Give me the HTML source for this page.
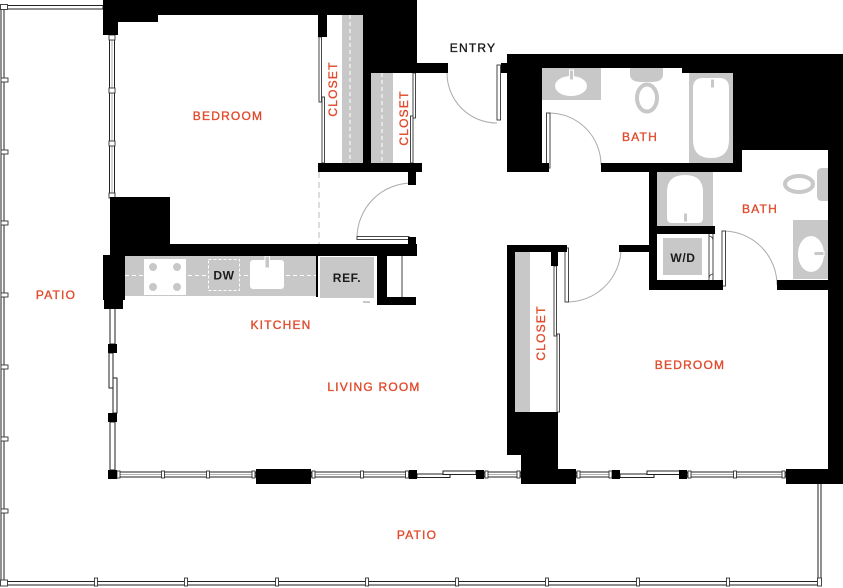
<!DOCTYPE html>
<html><head><meta charset="utf-8"><style>
html,body{margin:0;padding:0;background:#fff;}
svg{display:block;}
.lbl{font-family:"Liberation Sans",sans-serif;font-size:12px;fill:#e04b2c;stroke:#e04b2c;stroke-width:0.35px;letter-spacing:1.2px;}
.blk{font-family:"Liberation Sans",sans-serif;font-size:12px;fill:#1a1a1a;font-weight:bold;letter-spacing:0.6px;}
.ent{font-family:"Liberation Sans",sans-serif;font-size:12px;fill:#1a1a1a;stroke:#1a1a1a;stroke-width:0.35px;letter-spacing:1.2px;}
.win{fill:#fff;stroke:#222;stroke-width:1;}
.post{fill:#fff;stroke:#333;stroke-width:0.9;}
.door{fill:#fff;stroke:#333;stroke-width:0.9;}
.arc{fill:none;stroke:#aaa;stroke-width:1;}
.g{fill:#c8c8c8;}
</style></head><body>
<svg width="843" height="588" viewBox="0 0 843 588" xmlns="http://www.w3.org/2000/svg">
<rect width="843" height="588" fill="#fff"/>

<!-- Patio boundary -->
<rect x="1" y="6" width="3" height="579" class="win"/>
<rect x="1" y="581.5" width="820" height="3.5" class="win"/>
<rect x="818" y="483" width="3" height="101" class="win"/>
<rect x="2" y="5.5" width="101" height="3.5" class="win"/>
<rect x="0.5" y="4.5" width="7" height="5" class="post"/>
<g class="post">
<rect x="1" y="78" width="7" height="4"/><rect x="1" y="150" width="7" height="4"/>
<rect x="1" y="221" width="7" height="4"/><rect x="1" y="293" width="7" height="4"/>
<rect x="1" y="365" width="7" height="4"/><rect x="1" y="437" width="7" height="4"/>
<rect x="1" y="509" width="7" height="4"/>
<rect x="0.5" y="580" width="7" height="6"/>
<rect x="94.5" y="578" width="3" height="8"/><rect x="184.5" y="578" width="3" height="8"/>
<rect x="275.5" y="578" width="3" height="8"/><rect x="365.5" y="578" width="3" height="8"/>
<rect x="455.5" y="578" width="3" height="8"/><rect x="545.5" y="578" width="3" height="8"/>
<rect x="636.5" y="578" width="3" height="8"/><rect x="726.5" y="578" width="3" height="8"/>
<rect x="817.5" y="578" width="4" height="8"/>
</g>

<!-- Bedroom 1 left window -->
<rect x="109.5" y="35" width="5" height="162" class="win"/>
<line x1="112" y1="37" x2="112" y2="195" stroke="#999" stroke-width="0.8"/>
<g class="post">
<rect x="109" y="35" width="6" height="5"/><rect x="109" y="88" width="6" height="5"/>
<rect x="109" y="141" width="6" height="5"/><rect x="109" y="193" width="6" height="5"/>
</g>

<!-- Living room left window -->
<rect x="110" y="308" width="5" height="36" class="win"/>
<rect x="109" y="353" width="4" height="35" class="win"/>
<rect x="113" y="378" width="4" height="35" class="win"/>
<rect x="110" y="422" width="5" height="48" class="win"/>

<!-- Bottom windows -->
<rect x="117" y="472" width="139" height="5" class="win"/>
<rect x="311" y="472" width="99" height="5" class="win"/>
<rect x="417" y="474" width="33" height="3.5" class="win"/>
<rect x="443" y="471" width="33" height="3.5" class="win"/>
<rect x="484" y="472" width="37" height="5" class="win"/>
<rect x="576" y="472" width="36" height="5" class="win"/>
<rect x="620" y="474" width="34" height="3.5" class="win"/>
<rect x="647" y="471" width="33" height="3.5" class="win"/>
<rect x="687" y="472" width="99" height="5" class="win"/>
<g stroke="#999" stroke-width="0.7">
<line x1="117" y1="474.5" x2="256" y2="474.5"/><line x1="311" y1="474.5" x2="410" y2="474.5"/>
<line x1="484" y1="474.5" x2="521" y2="474.5"/><line x1="576" y1="474.5" x2="612" y2="474.5"/>
<line x1="687" y1="474.5" x2="786" y2="474.5"/>
</g>
<g class="post">
<rect x="117" y="471" width="3" height="7"/><rect x="161.5" y="471" width="3" height="7"/>
<rect x="206.5" y="471" width="3" height="7"/><rect x="252" y="471" width="3" height="7"/>
<rect x="312" y="471" width="3" height="7"/><rect x="360.5" y="471" width="3" height="7"/>
<rect x="405.5" y="471" width="3" height="7"/><rect x="485" y="471" width="3" height="7"/>
<rect x="517" y="471" width="3" height="7"/><rect x="577" y="471" width="3" height="7"/>
<rect x="609" y="471" width="3" height="7"/><rect x="688" y="471" width="3" height="7"/>
<rect x="733.5" y="471" width="3" height="7"/><rect x="782" y="471" width="3" height="7"/>
</g>

<!-- Closets bedroom 1 -->
<rect x="342" y="15" width="21" height="148" class="g"/>
<line x1="350" y1="15" x2="350" y2="163" stroke="#fff" stroke-width="1" stroke-dasharray="4,3"/>
<rect x="371" y="73" width="22" height="90" class="g"/>
<line x1="382" y1="73" x2="382" y2="163" stroke="#fff" stroke-width="1" stroke-dasharray="4,3"/>
<rect x="319" y="37" width="2.5" height="65" class="door"/>
<rect x="322" y="97" width="2.5" height="66" class="door"/>
<rect x="413" y="73" width="2.5" height="45" class="door"/>
<rect x="410.5" y="116" width="2.5" height="47" class="door"/>

<!-- Closet bedroom 2 -->
<rect x="515" y="252" width="15" height="160" class="g"/>
<rect x="554" y="266" width="2.5" height="70" class="door"/>
<rect x="557" y="334" width="2.5" height="78" class="door"/>

<!-- Dashed opening line -->
<line x1="319" y1="172" x2="319" y2="244" stroke="#bbb" stroke-width="1" stroke-dasharray="6,4"/>

<!-- Kitchen -->
<rect x="125" y="256" width="192" height="40" class="g"/>
<line x1="125" y1="275.5" x2="317" y2="275.5" stroke="#fff" stroke-width="1" stroke-dasharray="4,3"/>
<rect x="144" y="259" width="42" height="36" fill="#fff"/>
<g class="g"><circle cx="153" cy="267" r="4"/><circle cx="177" cy="267" r="4"/><circle cx="153" cy="287" r="4"/><circle cx="177" cy="287" r="4"/></g>
<rect x="208.5" y="259.5" width="31" height="31" fill="#c8c8c8" stroke="#fff" stroke-width="1" stroke-dasharray="3,2"/>
<rect x="250" y="260" width="34" height="29" rx="3" fill="#fff"/>
<rect x="265" y="256" width="4.5" height="12" fill="#c8c8c8" stroke="#fff" stroke-width="1"/>
<rect x="320" y="257" width="54" height="41" class="g"/>
<rect x="363" y="301" width="7" height="2" class="g"/>
<text x="224" y="279.5" text-anchor="middle" class="blk">DW</text>
<text x="347" y="282" text-anchor="middle" class="blk">REF.</text>
<line x1="402" y1="256" x2="402" y2="297" stroke="#444" stroke-width="1"/>

<!-- Bath 1 fixtures -->
<rect x="542" y="68" width="59" height="32" class="g"/>
<ellipse cx="571" cy="86" rx="16" ry="10" fill="#fff"/>
<rect x="569.5" y="70" width="4" height="10" fill="#c8c8c8" stroke="#fff" stroke-width="1"/>
<path d="M630 68 H663 V74 Q663 82 652 82 H641 Q630 82 630 74 Z" class="g"/>
<ellipse cx="647" cy="98" rx="10" ry="13.5" fill="#fff" stroke="#c8c8c8" stroke-width="4"/>
<rect x="689" y="73" width="44" height="90" class="g"/>
<path d="M693 88 Q693 78 703 78 H719 Q729 78 729 88 V140 Q729 158 711 158 Q693 158 693 140 Z" fill="#fff"/>
<rect x="710.5" y="79" width="4" height="9" fill="#c8c8c8" stroke="#fff" stroke-width="1"/>

<!-- Bath 2 fixtures -->
<rect x="657" y="172" width="56" height="54" class="g"/>
<path d="M667 192 Q667 175 685 175 Q703 175 703 192 V218 Q703 223 698 223 H672 Q667 223 667 218 Z" fill="#fff"/>
<rect x="683.5" y="213" width="4" height="9" fill="#c8c8c8" stroke="#fff" stroke-width="1"/>
<path d="M828 168 V201 H822 Q817 201 817 196 V173 Q817 168 822 168 Z" class="g"/>
<ellipse cx="799" cy="184" rx="14" ry="8" fill="#fff" stroke="#c8c8c8" stroke-width="4"/>
<rect x="793" y="220" width="35" height="59" class="g"/>
<ellipse cx="811" cy="254" rx="13" ry="18" fill="#fff"/>
<rect x="814" y="251.5" width="10" height="4" fill="#c8c8c8" stroke="#fff" stroke-width="1"/>

<!-- W/D -->
<rect x="657" y="234" width="51" height="46" fill="#fff"/>
<rect x="663" y="238" width="39" height="37" class="g"/>
<text x="683" y="262" text-anchor="middle" class="blk">W/D</text>
<line x1="709" y1="234" x2="709" y2="280" stroke="#333" stroke-width="0.9"/>
<line x1="713" y1="234" x2="713" y2="280" stroke="#333" stroke-width="0.9"/>
<path d="M709 236 A4 4 0 0 1 713 240" fill="none" stroke="#333" stroke-width="0.8"/>
<path d="M709 278 A4 4 0 0 1 713 274" fill="none" stroke="#333" stroke-width="0.8"/>

<!-- Doors -->
<path d="M447 73 A50 50 0 0 0 497 123" class="arc"/>
<rect x="497" y="65" width="3.5" height="55" class="door"/>
<path d="M550 113 A52 52 0 0 1 601 165" class="arc"/>
<rect x="546.5" y="113" width="3.5" height="55" class="door"/>
<path d="M357 238 A55 55 0 0 1 412 183" class="arc"/>
<rect x="357" y="236.5" width="52" height="3" class="door"/>
<path d="M567 302 A54 54 0 0 0 621 248" class="arc"/>
<rect x="565" y="248" width="3.5" height="54" class="door"/>
<path d="M724 231 A54 54 0 0 1 777 285" class="arc"/>
<rect x="722" y="231" width="3.5" height="55" class="door"/>

<!-- Walls -->
<g fill="#000">
<rect x="103" y="0" width="314" height="15"/>
<rect x="103" y="15" width="55" height="7"/>
<rect x="103" y="15" width="15" height="20"/>
<rect x="318" y="15" width="9" height="22"/>
<rect x="363" y="0" width="54" height="73"/>
<rect x="417" y="63" width="31" height="10"/>
<rect x="363" y="73" width="8" height="90"/>
<rect x="318" y="163" width="104" height="9"/>
<rect x="408" y="172" width="8" height="13"/>
<rect x="110" y="197" width="60" height="48"/>
<rect x="110" y="244" width="307" height="12"/>
<rect x="408" y="237" width="8" height="8"/>
<rect x="103" y="255" width="22" height="45"/>
<rect x="104" y="300" width="19" height="9"/>
<rect x="316" y="256" width="2" height="41"/>
<rect x="377" y="256" width="10" height="49"/>
<rect x="377" y="297" width="39" height="8"/>
<rect x="501" y="63" width="8" height="10"/>
<rect x="507" y="54" width="336" height="14"/>
<rect x="507" y="54" width="35" height="118"/>
<rect x="507" y="163" width="42" height="9"/>
<rect x="601" y="163" width="141" height="9"/>
<rect x="682" y="54" width="51" height="19"/>
<rect x="733" y="54" width="110" height="96"/>
<rect x="733" y="150" width="9" height="22"/>
<rect x="828" y="150" width="15" height="320"/>
<rect x="649" y="172" width="8" height="118"/>
<rect x="649" y="226" width="66" height="8"/>
<rect x="649" y="280" width="74" height="10"/>
<rect x="619" y="245" width="30" height="7"/>
<rect x="777" y="280" width="51" height="10"/>
<rect x="507" y="245" width="60" height="7"/>
<rect x="551" y="252" width="7" height="14"/>
<rect x="507" y="245" width="8" height="210"/>
<rect x="507" y="412" width="51" height="43"/>
<rect x="521" y="455" width="37" height="29"/>
<rect x="521" y="469" width="55" height="15"/>
<rect x="786" y="469" width="57" height="15"/>
<rect x="256" y="469" width="55" height="15"/>
<rect x="108" y="470" width="9" height="9"/>
<rect x="409" y="470" width="8" height="9"/>
<rect x="476" y="470" width="8" height="9"/>
<rect x="612" y="470" width="8" height="9"/>
<rect x="679" y="470" width="8" height="9"/>
<rect x="108" y="344" width="9" height="9"/>
<rect x="108" y="413" width="9" height="9"/>
</g>

<!-- Labels -->
<text x="228" y="120" text-anchor="middle" class="lbl">BEDROOM</text>
<text transform="translate(337,89) rotate(-90)" text-anchor="middle" class="lbl">CLOSET</text>
<text transform="translate(408,118) rotate(-90)" text-anchor="middle" class="lbl">CLOSET</text>
<text x="473" y="52" text-anchor="middle" class="ent">ENTRY</text>
<text x="640" y="141" text-anchor="middle" class="lbl">BATH</text>
<text x="760" y="213" text-anchor="middle" class="lbl">BATH</text>
<text x="56" y="299" text-anchor="middle" class="lbl">PATIO</text>
<text x="281" y="329" text-anchor="middle" class="lbl">KITCHEN</text>
<text x="374" y="391" text-anchor="middle" class="lbl">LIVING ROOM</text>
<text transform="translate(545,333) rotate(-90)" text-anchor="middle" class="lbl">CLOSET</text>
<text x="690" y="369" text-anchor="middle" class="lbl">BEDROOM</text>
<text x="417" y="539" text-anchor="middle" class="lbl">PATIO</text>
</svg>
</body></html>
